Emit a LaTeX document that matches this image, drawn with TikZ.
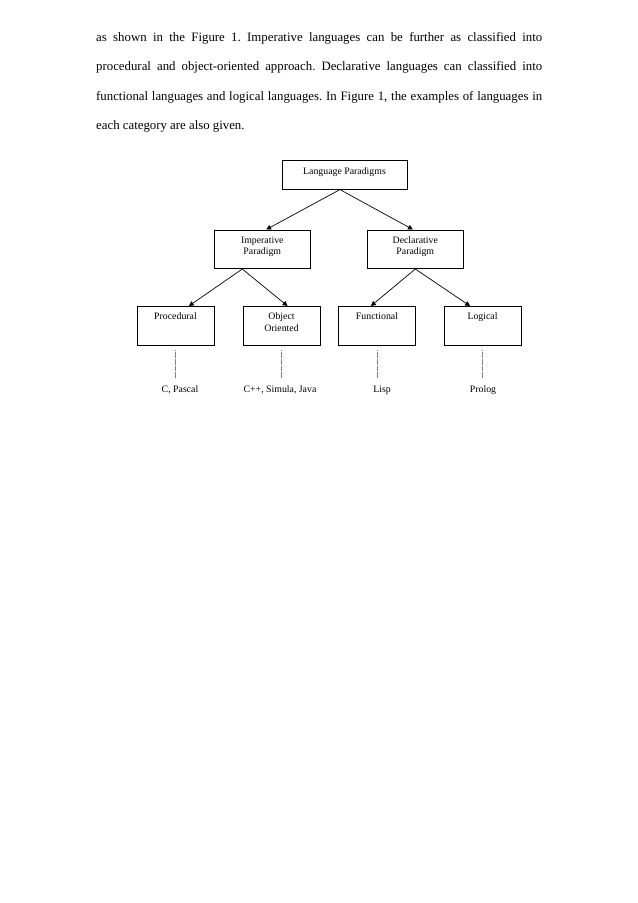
\documentclass[tikz,border=0pt]{standalone}
\usepackage{fontspec}
\setmainfont{Liberation Serif}
\usetikzlibrary{arrows.meta}

\newdimen\pxu \pxu=0.32915mm
\newcommand\twolines[2]{\parbox[t]{70\pxu}{\centering #1\\#2}}

\begin{document}
\begin{tikzpicture}[x=\pxu, y=-\pxu]

        \useasboundingbox (0,0) rectangle (638,903);

        \node[anchor=base west, inner sep=0pt] (txt) at (96,41.5) {\parbox[t]{446\pxu}{\fontsize{12}{27.4}\selectfont\frenchspacing
          as shown in the Figure 1. Imperative languages can be further as classified into\linebreak
          procedural and object-oriented approach. Declarative languages can classified into\linebreak
          functional languages and logical languages. In Figure 1, the examples of languages in\linebreak
          each category are also given.}};

        \begin{scope}[every node/.style={draw, line width=0.6pt, inner sep=0pt, anchor=north,
            font=\fontsize{9.2}{10.6}\selectfont, text height=12.6pt, text depth=23.8pt, minimum width=77\pxu}]
          \node (lp)   at (344.5,160) [text height=13.1pt, text depth=14pt, minimum width=125\pxu] {Language Paradigms};
          \node (imp)  at (262.3,229.5) [minimum width=96.5\pxu] {\twolines{Imperative}{Paradigm}};
          \node (dec)  at (415.3,229.5) [minimum width=96.5\pxu] {\twolines{Declarative}{Paradigm}};
          \node (proc) at (175.5,306) {Procedural};
          \node (oo)   at (281.5,306) {\twolines{Object}{Oriented}};
          \node (fun)  at (377,306)   {Functional};
          \node (log)  at (482.5,306) {Logical};
        \end{scope}

        \begin{scope}[every node/.style={inner sep=0pt, anchor=base, font=\fontsize{9.2}{10.6}\selectfont}]
          \node (cpas)   at (180,392) {C, Pascal};
          \node (cpp)    at (280,392) {C++, Simula, Java};
          \node (lisp)   at (382,392) {Lisp};
          \node (prolog) at (483,392) {Prolog};
        \end{scope}

        % tree arrows
        \begin{scope}[every edge/.style={draw, line width=0.65pt, -{Triangle[length=1.6mm, width=1.6mm]}}]
          \path ([xshift=-1.5mm]lp.south)  edge ([xshift=1.3mm]imp.north);
          \path ([xshift=-1.5mm]lp.south)  edge ([xshift=-0.8mm]dec.north);
          \path ([xshift=-6.6mm]imp.south) edge ([xshift=4.4mm]proc.north);
          \path ([xshift=-6.6mm]imp.south) edge ([xshift=2mm]oo.north);
          \path (dec.south) edge ([xshift=-2mm]fun.north);
          \path (dec.south) edge ([xshift=-4.1mm]log.north);
        \end{scope}

        % dotted lines down to the examples
        \begin{scope}[every edge/.style={draw, gray, line width=0.5pt, dash pattern=on 0.5pt off 0.6pt,
            shorten <=1.6mm, shorten >=2.3mm}]
          \path (proc.south) edge (proc.south |- cpas.north);
          \path (oo.south)   edge (oo.south |- cpp.north);
          \path (fun.south)  edge (fun.south |- lisp.north);
          \path (log.south)  edge (log.south |- prolog.north);
        \end{scope}

      \end{tikzpicture}
\end{document}
